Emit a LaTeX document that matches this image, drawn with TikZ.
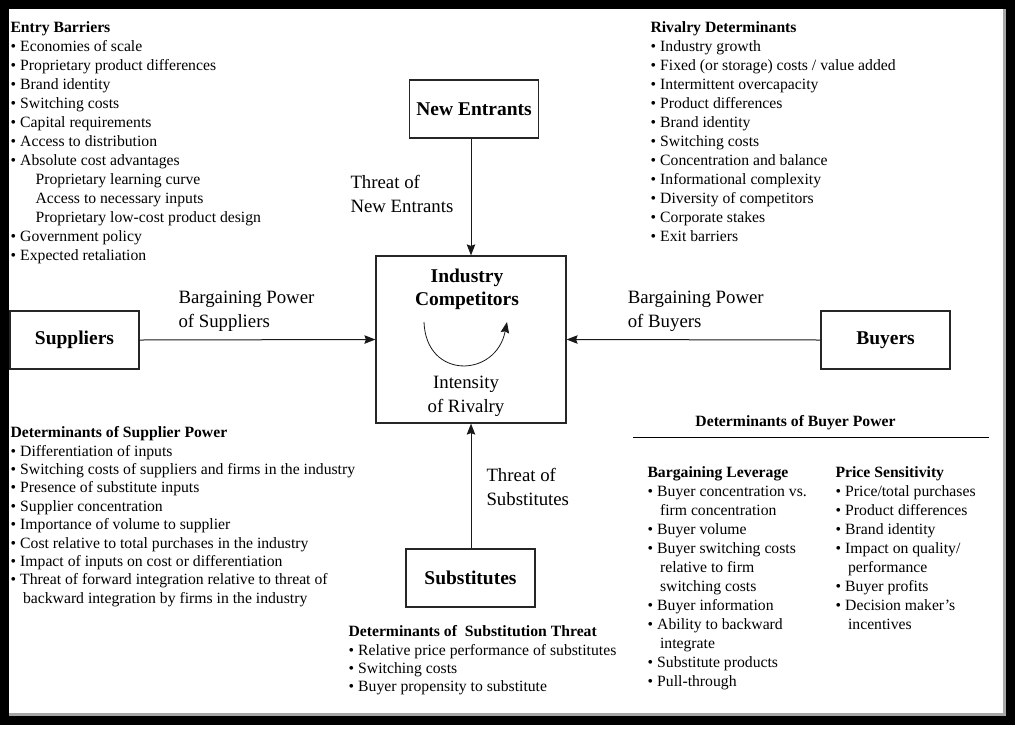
\documentclass[tikz,border=0pt]{standalone}
\usepackage{fontspec}
\setmainfont{Liberation Serif}
\usepackage{tikz}
\usetikzlibrary{arrows.meta}

\newcommand{\itm}{\textbullet\hspace{0.27em}}
\newcommand{\cnt}{\hspace*{0.8em}}
\newcommand{\sbi}{\hspace*{1.6em}}

\begin{document}
\begin{tikzpicture}[x=1pt, y=-1pt,
  force/.style={rectangle, draw=black!85, line width=1.2pt, minimum width=129pt,
    minimum height=58pt, inner sep=0pt, font=\fontsize{19.5}{23.5}\selectfont\bfseries},
  %
  core/.style={rectangle, draw=black!85, line width=1.2pt, minimum width=190pt,
    minimum height=167pt},
  %
  detlist/.style={anchor=north west, align=left, inner sep=0pt,
    font=\fontsize{15.7}{#1}\selectfont},
  detlist/.default=19,
  %
  flow/.style={anchor=north west, align=left, inner sep=0pt,
    font=\fontsize{18.8}{23.5}\selectfont},
  %
  push/.style={-{Stealth[length=11pt, width=8.5pt, inset=1.5pt]}, black!90}
  ]

  \tikzset{every path/.style={line width=1pt}}
  \useasboundingbox (0,0) rectangle (1017,729);

  % frame
  \draw [line width=9pt] (4.5,4.5) rectangle (1010.5,720.5);
  \draw [gray!70, line width=3pt] (1004.5,9) -- (1004.5,714.5) -- (9,714.5);

  \begin{scope}
    %%%%%%%%%%%%%%%%%%%%%%%%%%%%%%%
    \node [force] (entrants) at (474,109) {New Entrants};
    \node [force] (suppliers) at (74.5,340) {Suppliers};
    \node [force] (buyers) at (885.5,340) {Buyers};
    \node [force] (substitutes) at (470.5,578) {Substitutes};
    \node [core] (rivals) at (471,339.5) {};
    %%%%%%%%%%%%%%%%%%%%%%%%%%%%%%%
    \node [anchor=north, align=center, inner sep=0pt,
      font=\fontsize{19.5}{23.5}\selectfont\bfseries] (rivtitle) at (467,265.3)
      {\strut Industry\\Competitors};
    \node [flow, anchor=north, align=center] (intensity) at (466,371.9)
      {\strut Intensity\\of Rivalry};
    \coordinate (rivS) at (424,322);
    \coordinate (rivE) at (507,322);
    \draw [push, line width=.8pt] (rivS) .. controls (426,380) and (496,378) .. (rivE);
  \end{scope}

  \begin{scope}
    \draw [push] (rivals.north |- entrants.south) -- (rivals.north);
    \draw [push] (suppliers.east) -- (rivals.west);
    \draw [push] (buyers.west) -- (rivals.east);
    \draw [push] (rivals.south |- substitutes.north) -- (rivals.south);
  \end{scope}

  % forces
  \node [flow] (tEntrants) at (350,171.9) {\strut Threat of\\New Entrants};
  \node [flow] (bSuppliers) at (178,286.9) {\strut Bargaining Power\\of Suppliers};
  \node [flow] (bBuyers) at (627.3,286.9) {\strut Bargaining Power\\of Buyers};
  \node [flow] (tSubstitutes) at (486,464.6) {\strut Threat of\\Substitutes};

  % determinants
  \node [detlist] (barriers) at (10,18.2) {\strut\textbf{Entry Barriers}\\
    \itm Economies of scale\\
    \itm Proprietary product differences\\
    \itm Brand identity\\
    \itm Switching costs\\
    \itm Capital requirements\\
    \itm Access to distribution\\
    \itm Absolute cost advantages\\
    \sbi Proprietary learning curve\\
    \sbi Access to necessary inputs\\
    \sbi Proprietary low-cost product design\\
    \itm Government policy\\
    \itm Expected retaliation};

  \node [detlist] (rivalry) at (650,18.4) {\strut\textbf{Rivalry Determinants}\\
    \itm Industry growth\\
    \itm Fixed (or storage) costs / value added\\
    \itm Intermittent overcapacity\\
    \itm Product differences\\
    \itm Brand identity\\
    \itm Switching costs\\
    \itm Concentration and balance\\
    \itm Informational complexity\\
    \itm Diversity of competitors\\
    \itm Corporate stakes\\
    \itm Exit barriers};

  \node [detlist=18.4] (supplierPower) at (10,424.4) {\strut\textbf{Determinants of Supplier Power}\\
    \itm Differentiation of inputs\\
    \itm Switching costs of suppliers and firms in the industry\\
    \itm Presence of substitute inputs\\
    \itm Supplier concentration\\
    \itm Importance of volume to supplier\\
    \itm Cost relative to total purchases in the industry\\
    \itm Impact of inputs on cost or differentiation\\
    \itm Threat of forward integration relative to threat of\\
    \cnt backward integration by firms in the industry};

  \node [detlist=18.4] (substitution) at (348,623.4) {\strut\textbf{Determinants of\ \ Substitution Threat}\\
    \itm Relative price performance of substitutes\\
    \itm Switching costs\\
    \itm Buyer propensity to substitute};

  \node [anchor=base, inner sep=0pt, font=\fontsize{15.7}{19}\selectfont\bfseries]
    (buyerPower) at (795.5,426.7) {Determinants of Buyer Power};
  \draw (633,437.7) -- (989,437.7);

  \node [detlist] (leverage) at (647,463.4) {\strut\textbf{Bargaining Leverage}\\
    \itm Buyer concentration vs.\\
    \cnt firm concentration\\
    \itm Buyer volume\\
    \itm Buyer switching costs\\
    \cnt relative to firm\\
    \cnt switching costs\\
    \itm Buyer information\\
    \itm Ability to backward\\
    \cnt integrate\\
    \itm Substitute products\\
    \itm Pull-through};

  \node [detlist] (sensitivity) at (835,463.4) {\strut\textbf{Price Sensitivity}\\
    \itm Price/total purchases\\
    \itm Product differences\\
    \itm Brand identity\\
    \itm Impact on quality/\\
    \cnt performance\\
    \itm Buyer profits\\
    \itm Decision maker's\\
    \cnt incentives};

\end{tikzpicture}
\end{document}
